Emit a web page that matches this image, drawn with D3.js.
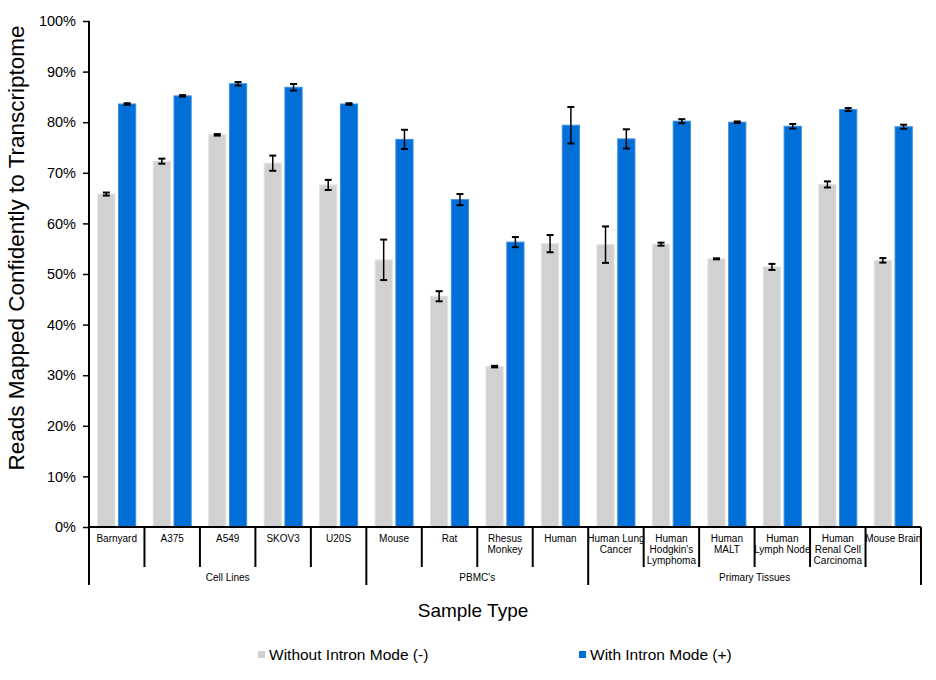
<!DOCTYPE html>
<html>
<head>
<meta charset="utf-8">
<script src="https://cdn.jsdelivr.net/npm/d3@7/dist/d3.min.js"></script>
<style>
  body { margin: 0; background: #fff; }
  svg { font-family: "Liberation Sans", Arial, sans-serif; }
</style>
</head>
<body>
<svg id="chart" width="936" height="680"></svg>
<script>
const categories = ["Barnyard","A375","A549","SKOV3","U20S","Mouse","Rat","Rhesus Monkey","Human","Human Lung Cancer","Human Hodgkin's Lymphoma","Human MALT","Human Lymph Node","Human Renal Cell Carcinoma","Mouse Brain"];
const categoryLines = [["Barnyard"],["A375"],["A549"],["SKOV3"],["U20S"],["Mouse"],["Rat"],["Rhesus","Monkey"],["Human"],["Human Lung","Cancer"],["Human","Hodgkin's","Lymphoma"],["Human","MALT"],["Human","Lymph Node"],["Human","Renal Cell","Carcinoma"],["Mouse Brain"]];
const groups = [
  {name: "Cell Lines", from: 0, to: 4},
  {name: "PBMC's", from: 5, to: 8},
  {name: "Primary Tissues", from: 9, to: 14}
];
const seriesNames = ["Without Intron Mode (-)", "With Intron Mode (+)"];
const withoutValues = [65.8, 72.3, 77.5, 71.9, 67.6, 52.8, 45.6, 31.7, 56.0, 55.8, 55.9, 53.0, 51.4, 67.7, 52.7];
const withoutErrors = [0.3, 0.5, 0.15, 1.5, 1.0, 4.0, 1.0, 0.15, 1.7, 3.6, 0.3, 0.1, 0.6, 0.6, 0.45];
const withValues = [83.6, 85.2, 87.6, 86.9, 83.6, 76.6, 64.7, 56.3, 79.4, 76.7, 80.2, 80.0, 79.2, 82.5, 79.1];
const withErrors = [0.15, 0.15, 0.35, 0.65, 0.15, 1.9, 1.1, 1.0, 3.6, 1.9, 0.4, 0.15, 0.45, 0.3, 0.4];
const yTicks = [0,10,20,30,40,50,60,70,80,90,100];
const colors = ["#d0d1d0", "#006fd8"];
const strokes = ["#e2e3e2", "#3b8de0"];

const svg = d3.select("#chart");
const mLeft = 89, mRight = 921, mTop = 21, mBottom = 527;

const x0 = d3.scaleBand().domain(categories).range([mLeft, mRight]).paddingInner(0).paddingOuter(0);
const x1 = d3.scaleBand().domain(seriesNames).range([0, x0.bandwidth()]).paddingInner(0.173).paddingOuter(0.42);
const y = d3.scaleLinear().domain([0, 100]).range([mBottom, mTop]);

const seriesData = [
  {name: seriesNames[0], values: withoutValues, errors: withoutErrors, color: colors[0], stroke: strokes[0]},
  {name: seriesNames[1], values: withValues, errors: withErrors, color: colors[1], stroke: strokes[1]}
];

// bars
seriesData.forEach(s => {
  const g = svg.append("g");
  g.selectAll("rect").data(categories).join("rect")
    .attr("x", (c) => x0(c) + x1(s.name))
    .attr("width", x1.bandwidth())
    .attr("y", (c, i) => y(s.values[i]))
    .attr("height", (c, i) => y(0) - y(s.values[i]))
    .attr("fill", s.color)
    .attr("stroke", s.stroke)
    .attr("stroke-width", 1);
  const eg = svg.append("g").attr("stroke", "#000").attr("stroke-width", 1.5);
  categories.forEach((c, i) => {
    const cx = x0(c) + x1(s.name) + x1.bandwidth() / 2;
    const y1 = y(s.values[i] + s.errors[i]);
    const y2 = y(s.values[i] - s.errors[i]);
    eg.append("line").attr("x1", cx).attr("x2", cx).attr("y1", y1).attr("y2", y2);
    eg.append("line").attr("x1", cx - 3.5).attr("x2", cx + 3.5).attr("y1", y1).attr("y2", y1).attr("stroke-width", 2);
    eg.append("line").attr("x1", cx - 3.5).attr("x2", cx + 3.5).attr("y1", y2).attr("y2", y2).attr("stroke-width", 2);
  });
});

// y axis
const yAxis = d3.axisLeft(y).tickValues(yTicks).tickFormat(d => d + "%").tickSize(6).tickSizeOuter(0);
const yg = svg.append("g").attr("transform", `translate(${mLeft},0)`).call(yAxis);
yg.select(".domain").remove();
yg.selectAll(".tick line").attr("stroke", "#000").attr("stroke-width", 1.5);
yg.selectAll(".tick text").attr("font-size", 14.5).attr("fill", "#000").attr("x", -13)
  .style("font-family", "'Liberation Sans', Arial, sans-serif");
svg.append("line").attr("x1", mLeft).attr("x2", mLeft).attr("y1", mTop).attr("y2", 585)
  .attr("stroke", "#000").attr("stroke-width", 2);

// x axis line
svg.append("line").attr("x1", mLeft).attr("x2", mRight).attr("y1", mBottom).attr("y2", mBottom)
  .attr("stroke", "#000").attr("stroke-width", 2);

// category separators
const sepG = svg.append("g").attr("stroke", "#000").attr("stroke-width", 2);
categories.forEach((c, i) => {
  if (i === 0) return;
  const xx = x0(c);
  const isGroupStart = groups.some(g => g.from === i);
  sepG.append("line").attr("x1", xx).attr("x2", xx).attr("y1", mBottom).attr("y2", isGroupStart ? 585 : 567);
});
sepG.append("line").attr("x1", mRight).attr("x2", mRight).attr("y1", mBottom).attr("y2", 585);

// category labels
const labG = svg.append("g").attr("font-size", 10).attr("text-anchor", "middle").attr("fill", "#000");
categories.forEach((c, i) => {
  const cx = x0(c) + x0.bandwidth() / 2;
  const t = labG.append("text").attr("x", cx).attr("y", 542);
  categoryLines[i].forEach((line, j) => {
    t.append("tspan").attr("x", cx).attr("dy", j === 0 ? 0 : 11).text(line);
  });
});

// group labels
groups.forEach(g => {
  const xs = x0(categories[g.from]);
  const xe = x0(categories[g.to]) + x0.bandwidth();
  svg.append("text").attr("x", (xs + xe) / 2).attr("y", 581).attr("text-anchor", "middle")
    .attr("font-size", 10).attr("fill", "#000").text(g.name);
});

// axis titles
svg.append("text").attr("x", 473).attr("y", 617).attr("text-anchor", "middle")
  .attr("font-size", 19).attr("fill", "#000").text("Sample Type");
svg.append("text").attr("transform", `translate(24,248) rotate(-90)`)
  .attr("text-anchor", "middle").attr("font-size", 22.5).attr("fill", "#000")
  .text("Reads Mapped Confidently to Transcriptome");

// legend
const legendX = [258, 579];
seriesData.forEach((s, i) => {
  svg.append("rect").attr("x", legendX[i]).attr("y", 651).attr("width", 7).attr("height", 7).attr("fill", s.color);
  svg.append("text").attr("x", legendX[i] + 11).attr("y", 660).attr("font-size", 15.5).attr("fill", "#000").text(s.name);
});
</script>
</body>
</html>
